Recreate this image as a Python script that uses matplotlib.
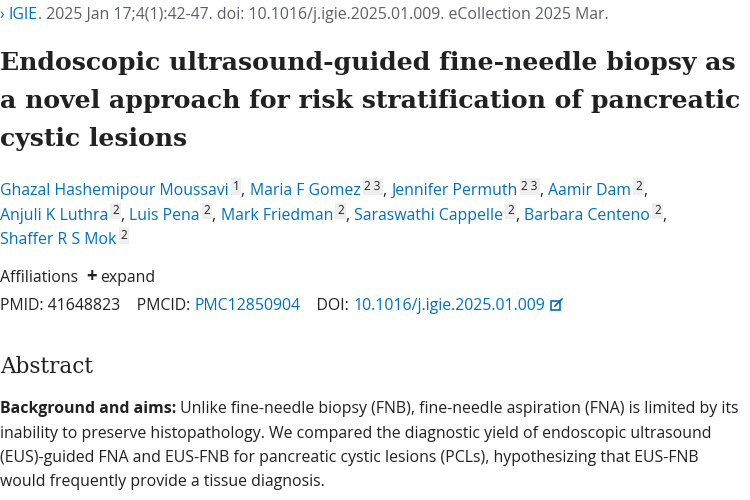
import matplotlib
matplotlib.use("Agg")
import matplotlib.pyplot as plt
from matplotlib.patches import Rectangle
from matplotlib.lines import Line2D

BLUE = '#0071bc'
GRAY = '#5b616b'
DARK = '#212121'
SANS = ['Open Sans', 'DejaVu Sans']
SERIF = 'DejaVu Serif'
BODY = 11.4

CITATION = [('\u203a ', BLUE), ('IGIE', BLUE),
            ('. 2025 Jan 17;4(1):42-47. doi: 10.1016/j.igie.2025.01.009. eCollection 2025 Mar.', GRAY)]
TITLE_LINES = ['Endoscopic ultrasound-guided fine-needle biopsy as',
               'a novel approach for risk stratification of pancreatic',
               'cystic lesions']
AUTHOR_LINES = [
    [('Ghazal Hashemipour Moussavi', '1'), ('Maria F Gomez', '2 3'), ('Jennifer Permuth', '2 3'), ('Aamir Dam', '2')],
    [('Anjuli K Luthra', '2'), ('Luis Pena', '2'), ('Mark Friedman', '2'), ('Saraswathi Cappelle', '2'), ('Barbara Centeno', '2')],
    [('Shaffer R S Mok', '2')],
]
IDS = [('PMID: 41648823    PMCID: ', DARK), ('PMC12850904', BLUE), ('    DOI: ', DARK),
       ('10.1016/j.igie.2025.01.009', BLUE)]
ABSTRACT_LINES = [
    [('Background and aims:', True), (' Unlike fine-needle biopsy (FNB), fine-needle aspiration (FNA) is limited by its', False)],
    [('inability to preserve histopathology. We compared the diagnostic yield of endoscopic ultrasound', False)],
    [('(EUS)-guided FNA and EUS-FNB for pancreatic cystic lesions (PCLs), hypothesizing that EUS-FNB', False)],
    [('would frequently provide a tissue diagnosis.', False)],
]

fig = plt.figure(figsize=(7.5, 5), dpi=100)
fig.patch.set_facecolor('white')
renderer = fig.canvas.get_renderer()
W, H = 750, 500


def put(x, y, s, **kw):
    # x, y in pixels from top-left; returns right edge in pixels
    t = fig.text(x / W, 1 - y / H, s, va='baseline', ha='left', **kw)
    bb = t.get_window_extent(renderer)
    return bb.x1


def segments(x, y, segs, size, family=SANS, weight='normal'):
    for s, c in segs:
        x = put(x, y, s, color=c, fontsize=size, family=family, weight=weight)
    return x


segments(0, 19, CITATION, BODY)

for i, line in enumerate(TITLE_LINES):
    put(0, 70 + i * 38, line, color=DARK, fontsize=18.1, family=SERIF, weight='bold')

for i, line in enumerate(AUTHOR_LINES):
    x = 0
    y = 195 + i * 24.5
    for j, (name, sup) in enumerate(line):
        x = put(x, y, name, color=BLUE, fontsize=BODY, family=SANS)
        x = put(x + 4, y - 5, sup, color=DARK, fontsize=8.5, family=SANS,
                bbox=dict(boxstyle='square,pad=0.15', fc='#eeeeee', ec='none'))
        last_line = i == len(AUTHOR_LINES) - 1 and j == len(line) - 1
        if not last_line:
            x = put(x + 2, y, ', ', color=DARK, fontsize=BODY, family=SANS)

x = put(0, 282, 'Affiliations', color=DARK, fontsize=BODY, family=SANS)
x = put(x + 8, 282, '+', color=DARK, fontsize=BODY + 2, family=SANS, weight='bold')
put(x + 4, 282, 'expand', color=DARK, fontsize=BODY, family=SANS)
x = segments(0, 310, IDS, BODY)

# external-link icon (no installed font has the glyph)
bx, by = x + 6, 300
fig.patches.append(Rectangle((bx / W, 1 - (by + 10) / H), 9 / W, 9 / H,
                             transform=fig.transFigure, fill=False, ec=BLUE, lw=1.2))
fig.lines.append(Line2D([(bx + 4) / W, (bx + 11) / W], [1 - (by + 6) / H, 1 - (by - 1) / H],
                        transform=fig.transFigure, color=BLUE, lw=1.2))

put(0, 373, 'Abstract', color=DARK, fontsize=15.5, family=SERIF)

for i, line in enumerate(ABSTRACT_LINES):
    x = 0
    for s, bold in line:
        x = put(x, 413 + i * 24.5, s, color=DARK, fontsize=BODY, family=SANS,
                weight='bold' if bold else 'normal')

fig.savefig('out.png', dpi=100, facecolor='white')
